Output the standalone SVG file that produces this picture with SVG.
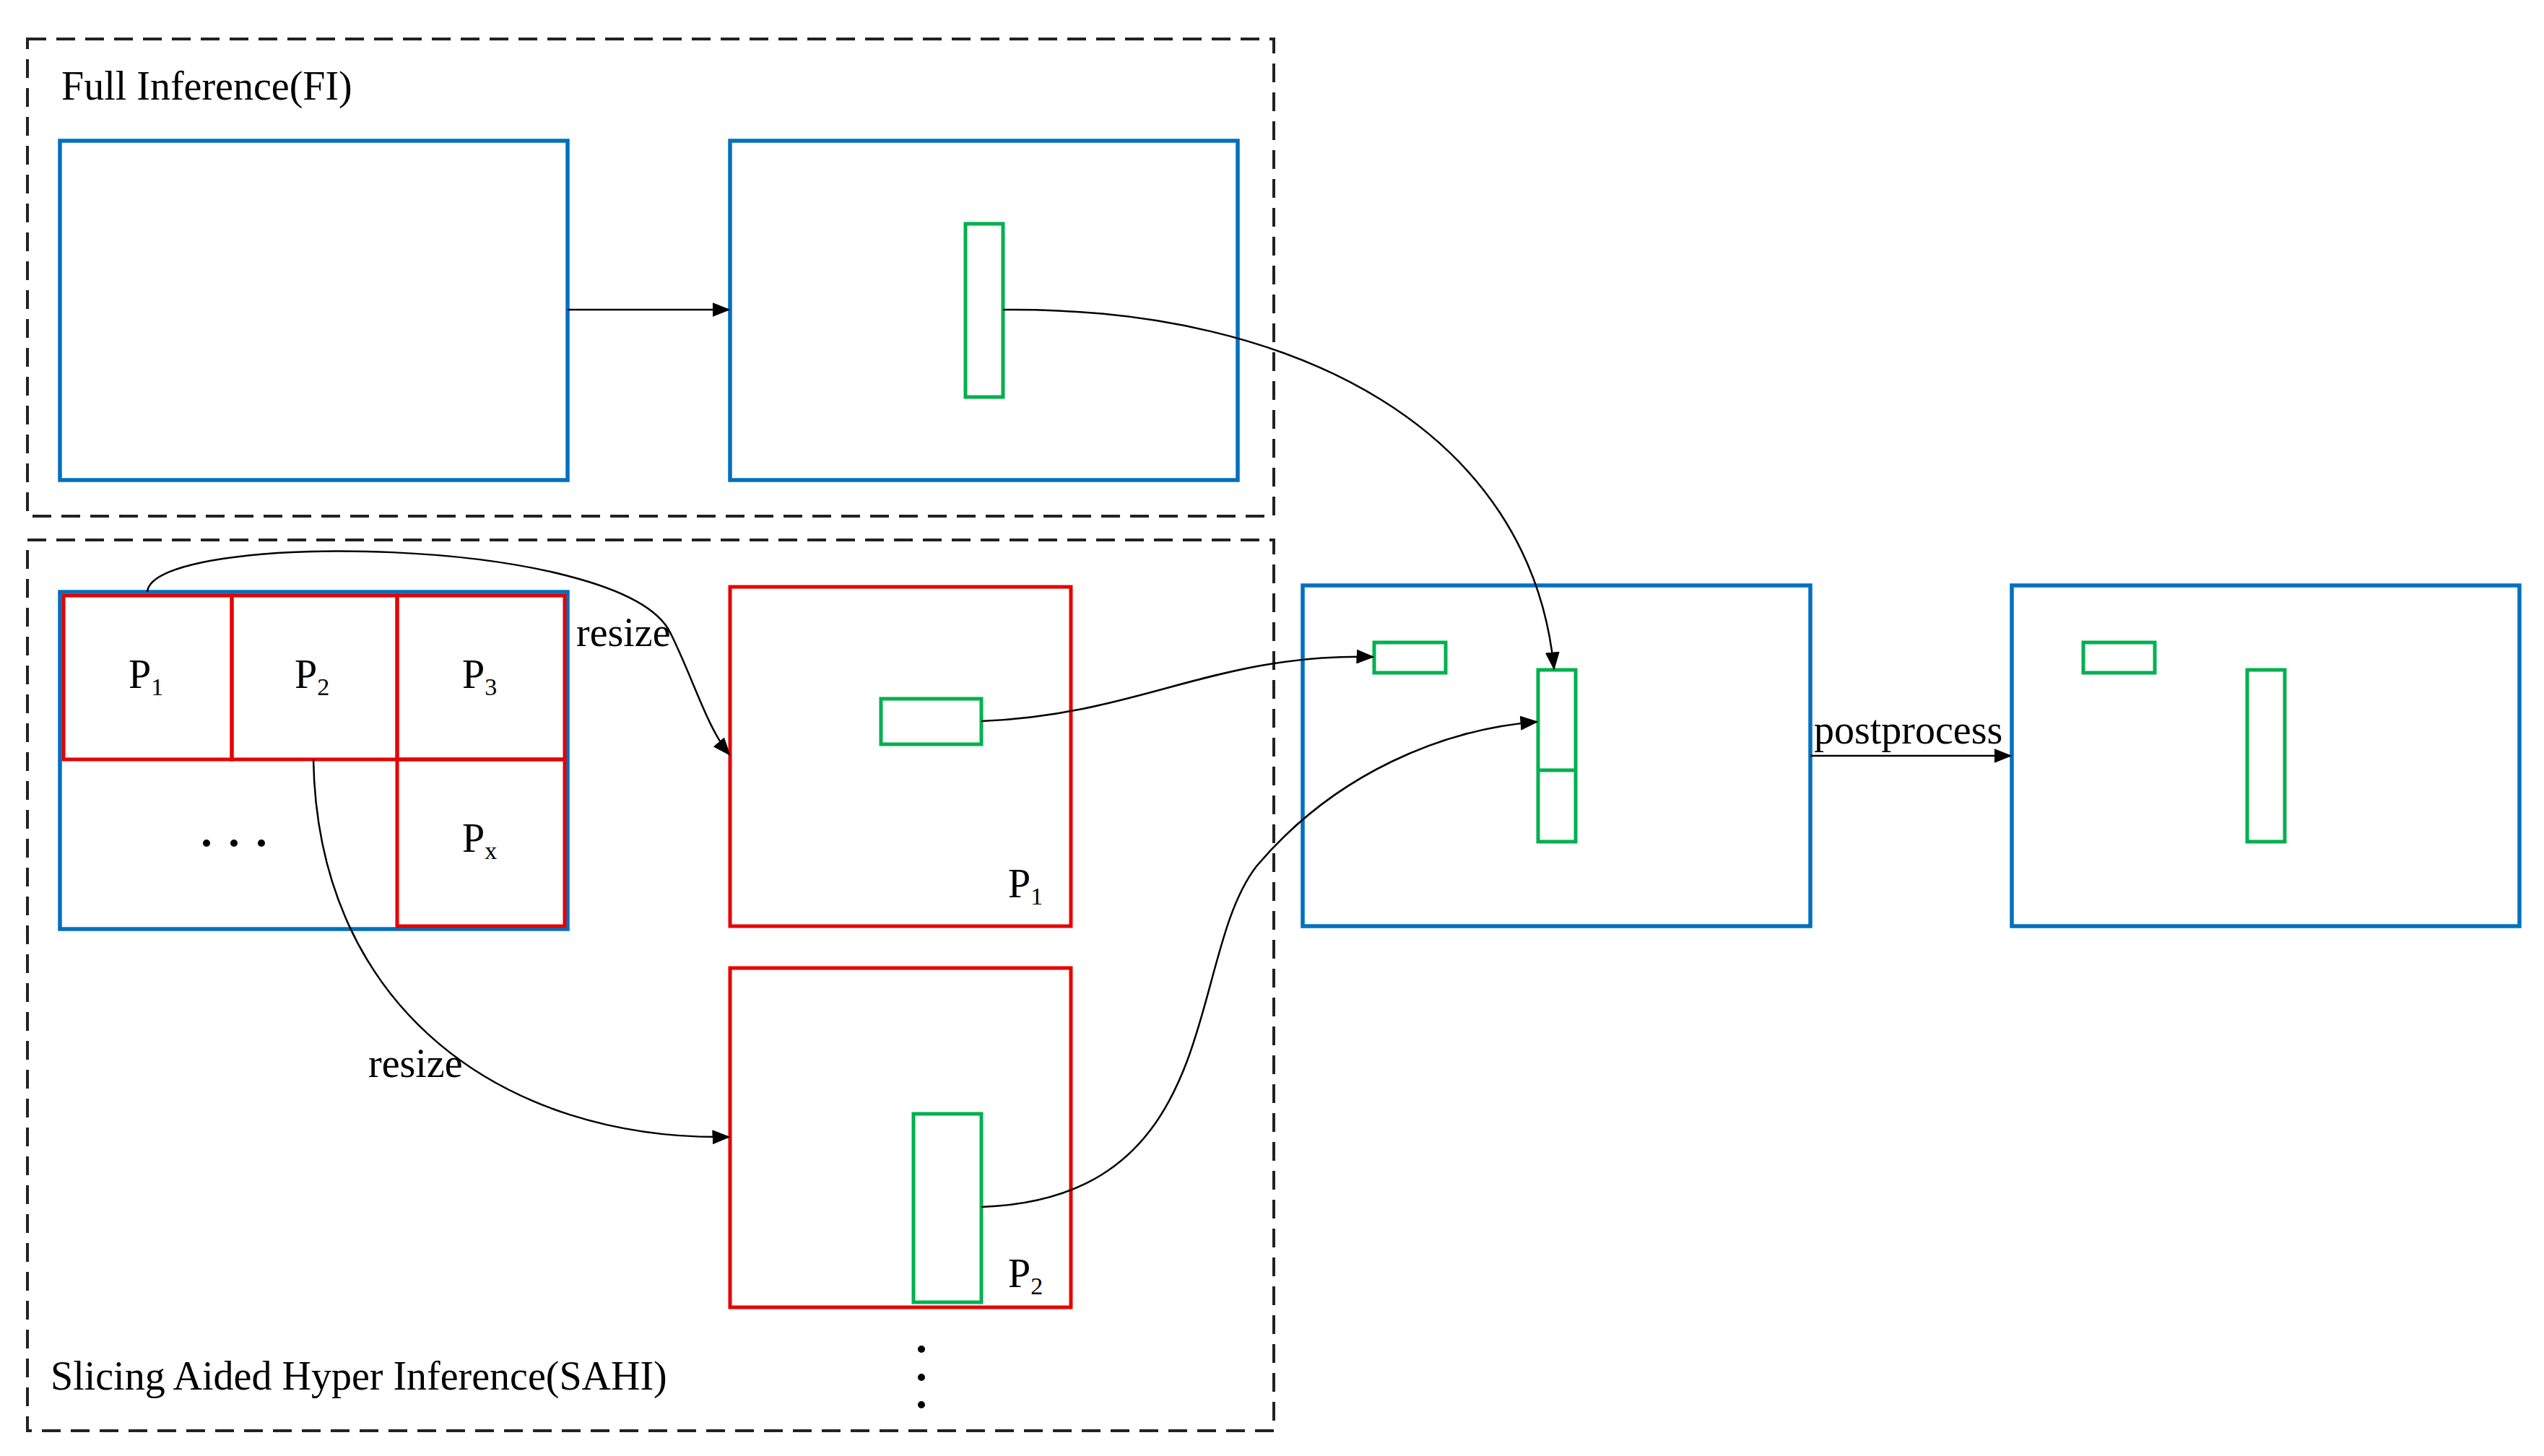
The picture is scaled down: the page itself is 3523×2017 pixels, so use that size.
<svg xmlns="http://www.w3.org/2000/svg" width="3523" height="2017" viewBox="0 0 3523 2017">
<style>
.blue{fill:none;stroke:#0070c0;stroke-width:5.5}
.red{fill:none;stroke:#e60000;stroke-width:5}
.green{fill:none;stroke:#00b050;stroke-width:5}
.dash{fill:none;stroke:#222;stroke-width:4;stroke-dasharray:26 14}
.c{fill:none;stroke:#000;stroke-width:2.5;marker-end:url(#ah)}
text{font-family:"Liberation Serif",serif;font-size:56px;fill:#000}
.s{font-size:34px}
</style>
<defs><marker id="ah" markerWidth="10" markerHeight="8" refX="9" refY="4" orient="auto" markerUnits="strokeWidth"><path d="M0,0L10,4L0,8z" fill="#000"/></marker></defs>
<rect width="3523" height="2017" fill="#fff"/>
<g id="fi-frame"><rect class="dash" x="38" y="54" width="1726" height="661"/><text x="85" y="138">Full Inference(FI)</text></g>
<g id="sahi-frame"><rect class="dash" x="38" y="748" width="1726" height="1234"/><text x="70" y="1925">Slicing Aided Hyper Inference(SAHI)</text>
<circle cx="1276" cy="1869" r="5"/><circle cx="1276" cy="1908" r="5"/><circle cx="1276" cy="1946" r="5"/></g>
<g id="fi-input"><rect class="blue" x="83" y="195" width="703" height="470"/></g>
<g id="fi-output"><rect class="blue" x="1011" y="195" width="703" height="470"/><rect class="green" x="1337" y="310" width="52" height="240"/></g>
<g id="grid"><rect class="blue" x="83" y="820" width="703" height="467"/>
<rect class="red" x="88" y="825" width="233" height="227"/><rect class="red" x="321" y="825" width="229" height="227"/><rect class="red" x="550" y="825" width="232" height="227"/><rect class="red" x="550" y="1052" width="232" height="231"/>
<text x="178" y="953">P<tspan class="s" dy="10">1</tspan></text>
<text x="408" y="953">P<tspan class="s" dy="10">2</tspan></text>
<text x="640" y="953">P<tspan class="s" dy="10">3</tspan></text>
<text x="640" y="1180">P<tspan class="s" dy="10">x</tspan></text>
<circle cx="286" cy="1168" r="5"/><circle cx="324" cy="1168" r="5"/><circle cx="362" cy="1168" r="5"/></g>
<g id="p1"><rect class="red" x="1011" y="813" width="472" height="470"/><rect class="green" x="1220" y="968" width="139" height="63"/><text x="1396" y="1243">P<tspan class="s" dy="10">1</tspan></text></g>
<g id="p2"><rect class="red" x="1011" y="1341" width="472" height="470"/><rect class="green" x="1265" y="1543" width="94" height="261"/><text x="1396" y="1783">P<tspan class="s" dy="10">2</tspan></text></g>
<g id="merged"><rect class="blue" x="1804" y="811" width="703" height="472"/><rect class="green" x="1903" y="890" width="99" height="42"/><rect class="green" x="2130" y="928" width="52" height="238"/><line class="green" x1="2130" y1="1067" x2="2182" y2="1067"/></g>
<g id="final"><rect class="blue" x="2786" y="811" width="703" height="472"/><rect class="green" x="2885" y="890" width="99" height="42"/><rect class="green" x="3112" y="928" width="52" height="238"/></g>
<g id="connectors">
<path class="c" d="M786,429H1009"/>
<path class="c" d="M1389,429C1800,425 2120,600 2152,926"/>
<path class="c" d="M204,820C210,735 860,740 928,876C960,940 980,1010 1010,1045"/>
<path class="c" d="M434,1052C440,1400 700,1580 1009,1575"/>
<path class="c" d="M1359,999C1580,990 1680,905 1901,910"/>
<path class="c" d="M1359,1672C1700,1660 1640,1330 1740,1200C1850,1070 2000,1010 2128,1000"/>
<path class="c" d="M2507,1047H2784"/>
<text x="798" y="895">resize</text>
<text x="510" y="1492">resize</text>
<text x="2512" y="1030">postprocess</text>
</g>
</svg>
